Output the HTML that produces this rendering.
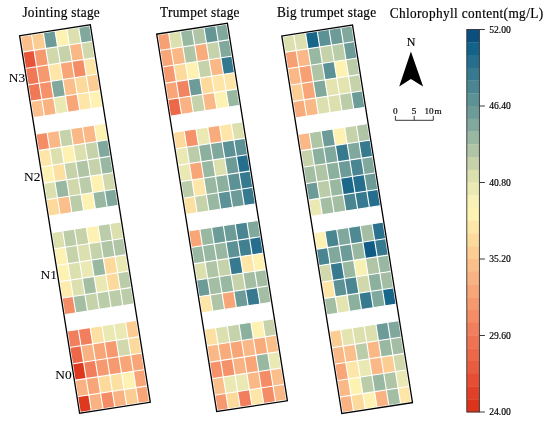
<!DOCTYPE html>
<html><head><meta charset="utf-8"><style>
html,body{margin:0;padding:0;background:#fff;width:550px;height:422px;overflow:hidden}
svg{display:block;will-change:transform;filter:blur(0.3px)}
text{font-family:"Liberation Serif",serif;fill:#000;stroke:#000;stroke-width:0.18px}
.ttl{font-size:13.3px;letter-spacing:0.3px;stroke:#000;stroke-width:0.18px}
.nl{font-size:13.4px;stroke-width:0.1px}
.lb{font-size:9.6px}
.na{font-size:12px}
.sb{font-size:9.2px}
</style></head><body>
<svg width="550" height="422" viewBox="0 0 550 422">
<g transform="matrix(0.98832,-0.15237,0.15697,0.98760,19.6,35.7)">
<rect x="0" y="0" width="71.54" height="382.24" fill="#fff"/>
<rect x="0.00" y="0.00" width="11.92" height="16.62" fill="#fabf8a"/>
<rect x="11.92" y="0.00" width="11.92" height="16.62" fill="#fbcd93"/>
<rect x="23.85" y="0.00" width="11.92" height="16.62" fill="#6d9c98"/>
<rect x="35.77" y="0.00" width="11.92" height="16.62" fill="#fdf2b1"/>
<rect x="47.69" y="0.00" width="11.92" height="16.62" fill="#dce0af"/>
<rect x="59.61" y="0.00" width="11.92" height="16.62" fill="#80a89c"/>
<rect x="0.00" y="16.62" width="11.92" height="16.62" fill="#e85439"/>
<rect x="11.92" y="16.62" width="11.92" height="16.62" fill="#f6996f"/>
<rect x="23.85" y="16.62" width="11.92" height="16.62" fill="#d1d9ac"/>
<rect x="35.77" y="16.62" width="11.92" height="16.62" fill="#c6d2a9"/>
<rect x="47.69" y="16.62" width="11.92" height="16.62" fill="#fab886"/>
<rect x="59.61" y="16.62" width="11.92" height="16.62" fill="#d1d9ac"/>
<rect x="0.00" y="33.24" width="11.92" height="16.62" fill="#f07857"/>
<rect x="11.92" y="33.24" width="11.92" height="16.62" fill="#f6996f"/>
<rect x="23.85" y="33.24" width="11.92" height="16.62" fill="#fde6a7"/>
<rect x="35.77" y="33.24" width="11.92" height="16.62" fill="#f8a677"/>
<rect x="47.69" y="33.24" width="11.92" height="16.62" fill="#f48c66"/>
<rect x="59.61" y="33.24" width="11.92" height="16.62" fill="#fde6a7"/>
<rect x="0.00" y="49.86" width="11.92" height="16.62" fill="#f07857"/>
<rect x="11.92" y="49.86" width="11.92" height="16.62" fill="#f5926a"/>
<rect x="23.85" y="49.86" width="11.92" height="16.62" fill="#80a89c"/>
<rect x="35.77" y="49.86" width="11.92" height="16.62" fill="#fabf8a"/>
<rect x="47.69" y="49.86" width="11.92" height="16.62" fill="#fcda9c"/>
<rect x="59.61" y="49.86" width="11.92" height="16.62" fill="#fbcd93"/>
<rect x="0.00" y="66.48" width="11.92" height="16.62" fill="#fabf8a"/>
<rect x="11.92" y="66.48" width="11.92" height="16.62" fill="#f9b281"/>
<rect x="23.85" y="66.48" width="11.92" height="16.62" fill="#ebe9b3"/>
<rect x="35.77" y="66.48" width="11.92" height="16.62" fill="#f8a677"/>
<rect x="47.69" y="66.48" width="11.92" height="16.62" fill="#fde6a7"/>
<rect x="59.61" y="66.48" width="11.92" height="16.62" fill="#fdf2b1"/>
<rect x="0.00" y="99.71" width="11.92" height="16.62" fill="#f48c66"/>
<rect x="11.92" y="99.71" width="11.92" height="16.62" fill="#fab886"/>
<rect x="23.85" y="99.71" width="11.92" height="16.62" fill="#c6d2a9"/>
<rect x="35.77" y="99.71" width="11.92" height="16.62" fill="#fab886"/>
<rect x="47.69" y="99.71" width="11.92" height="16.62" fill="#fab886"/>
<rect x="59.61" y="99.71" width="11.92" height="16.62" fill="#fdf2b1"/>
<rect x="0.00" y="116.33" width="11.92" height="16.62" fill="#fde6a7"/>
<rect x="11.92" y="116.33" width="11.92" height="16.62" fill="#dce0af"/>
<rect x="23.85" y="116.33" width="11.92" height="16.62" fill="#fdf2b1"/>
<rect x="35.77" y="116.33" width="11.92" height="16.62" fill="#dce0af"/>
<rect x="47.69" y="116.33" width="11.92" height="16.62" fill="#c6d2a9"/>
<rect x="59.61" y="116.33" width="11.92" height="16.62" fill="#80a89c"/>
<rect x="0.00" y="132.95" width="11.92" height="16.62" fill="#fdf2b1"/>
<rect x="11.92" y="132.95" width="11.92" height="16.62" fill="#fce0a2"/>
<rect x="23.85" y="132.95" width="11.92" height="16.62" fill="#c6d2a9"/>
<rect x="35.77" y="132.95" width="11.92" height="16.62" fill="#afc5a6"/>
<rect x="47.69" y="132.95" width="11.92" height="16.62" fill="#c6d2a9"/>
<rect x="59.61" y="132.95" width="11.92" height="16.62" fill="#98b8a1"/>
<rect x="0.00" y="149.57" width="11.92" height="16.62" fill="#dce0af"/>
<rect x="11.92" y="149.57" width="11.92" height="16.62" fill="#98b8a1"/>
<rect x="23.85" y="149.57" width="11.92" height="16.62" fill="#d1d9ac"/>
<rect x="35.77" y="149.57" width="11.92" height="16.62" fill="#bacca8"/>
<rect x="47.69" y="149.57" width="11.92" height="16.62" fill="#fdf2b1"/>
<rect x="59.61" y="149.57" width="11.92" height="16.62" fill="#d1d9ac"/>
<rect x="0.00" y="166.19" width="11.92" height="16.62" fill="#fcda9c"/>
<rect x="11.92" y="166.19" width="11.92" height="16.62" fill="#fabf8a"/>
<rect x="23.85" y="166.19" width="11.92" height="16.62" fill="#bacca8"/>
<rect x="35.77" y="166.19" width="11.92" height="16.62" fill="#fdf2b1"/>
<rect x="47.69" y="166.19" width="11.92" height="16.62" fill="#98b8a1"/>
<rect x="59.61" y="166.19" width="11.92" height="16.62" fill="#80a89c"/>
<rect x="0.00" y="199.43" width="11.92" height="16.62" fill="#dce0af"/>
<rect x="11.92" y="199.43" width="11.92" height="16.62" fill="#bacca8"/>
<rect x="23.85" y="199.43" width="11.92" height="16.62" fill="#c6d2a9"/>
<rect x="35.77" y="199.43" width="11.92" height="16.62" fill="#fdf2b1"/>
<rect x="47.69" y="199.43" width="11.92" height="16.62" fill="#bacca8"/>
<rect x="59.61" y="199.43" width="11.92" height="16.62" fill="#dce0af"/>
<rect x="0.00" y="216.05" width="11.92" height="16.62" fill="#fdf2b1"/>
<rect x="11.92" y="216.05" width="11.92" height="16.62" fill="#c6d2a9"/>
<rect x="23.85" y="216.05" width="11.92" height="16.62" fill="#dce0af"/>
<rect x="35.77" y="216.05" width="11.92" height="16.62" fill="#c6d2a9"/>
<rect x="47.69" y="216.05" width="11.92" height="16.62" fill="#afc5a6"/>
<rect x="59.61" y="216.05" width="11.92" height="16.62" fill="#afc5a6"/>
<rect x="0.00" y="232.67" width="11.92" height="16.62" fill="#fdf2b1"/>
<rect x="11.92" y="232.67" width="11.92" height="16.62" fill="#dce0af"/>
<rect x="23.85" y="232.67" width="11.92" height="16.62" fill="#ebe9b3"/>
<rect x="35.77" y="232.67" width="11.92" height="16.62" fill="#98b8a1"/>
<rect x="47.69" y="232.67" width="11.92" height="16.62" fill="#fcda9c"/>
<rect x="59.61" y="232.67" width="11.92" height="16.62" fill="#ebe9b3"/>
<rect x="0.00" y="249.29" width="11.92" height="16.62" fill="#fdecac"/>
<rect x="11.92" y="249.29" width="11.92" height="16.62" fill="#dce0af"/>
<rect x="23.85" y="249.29" width="11.92" height="16.62" fill="#a4bea4"/>
<rect x="35.77" y="249.29" width="11.92" height="16.62" fill="#ebe9b3"/>
<rect x="47.69" y="249.29" width="11.92" height="16.62" fill="#fcda9c"/>
<rect x="59.61" y="249.29" width="11.92" height="16.62" fill="#bacca8"/>
<rect x="0.00" y="265.91" width="11.92" height="16.62" fill="#f48c66"/>
<rect x="11.92" y="265.91" width="11.92" height="16.62" fill="#a4bea4"/>
<rect x="23.85" y="265.91" width="11.92" height="16.62" fill="#c6d2a9"/>
<rect x="35.77" y="265.91" width="11.92" height="16.62" fill="#bacca8"/>
<rect x="47.69" y="265.91" width="11.92" height="16.62" fill="#bacca8"/>
<rect x="59.61" y="265.91" width="11.92" height="16.62" fill="#bacca8"/>
<rect x="0.00" y="299.14" width="11.92" height="16.62" fill="#f17e5c"/>
<rect x="11.92" y="299.14" width="11.92" height="16.62" fill="#f17e5c"/>
<rect x="23.85" y="299.14" width="11.92" height="16.62" fill="#fce0a2"/>
<rect x="35.77" y="299.14" width="11.92" height="16.62" fill="#ebe9b3"/>
<rect x="47.69" y="299.14" width="11.92" height="16.62" fill="#ebe9b3"/>
<rect x="59.61" y="299.14" width="11.92" height="16.62" fill="#fbcd93"/>
<rect x="0.00" y="315.76" width="11.92" height="16.62" fill="#ed6849"/>
<rect x="11.92" y="315.76" width="11.92" height="16.62" fill="#f9b281"/>
<rect x="23.85" y="315.76" width="11.92" height="16.62" fill="#f8a677"/>
<rect x="35.77" y="315.76" width="11.92" height="16.62" fill="#f6996f"/>
<rect x="47.69" y="315.76" width="11.92" height="16.62" fill="#d1d9ac"/>
<rect x="59.61" y="315.76" width="11.92" height="16.62" fill="#fcda9c"/>
<rect x="0.00" y="332.38" width="11.92" height="16.62" fill="#de381e"/>
<rect x="11.92" y="332.38" width="11.92" height="16.62" fill="#f17e5c"/>
<rect x="23.85" y="332.38" width="11.92" height="16.62" fill="#f6996f"/>
<rect x="35.77" y="332.38" width="11.92" height="16.62" fill="#f6996f"/>
<rect x="47.69" y="332.38" width="11.92" height="16.62" fill="#f8a677"/>
<rect x="59.61" y="332.38" width="11.92" height="16.62" fill="#f8a677"/>
<rect x="0.00" y="349.00" width="11.92" height="16.62" fill="#f9b281"/>
<rect x="11.92" y="349.00" width="11.92" height="16.62" fill="#f8a677"/>
<rect x="23.85" y="349.00" width="11.92" height="16.62" fill="#fcda9c"/>
<rect x="35.77" y="349.00" width="11.92" height="16.62" fill="#fce0a2"/>
<rect x="47.69" y="349.00" width="11.92" height="16.62" fill="#fdf2b1"/>
<rect x="59.61" y="349.00" width="11.92" height="16.62" fill="#f8a677"/>
<rect x="0.00" y="365.62" width="11.92" height="16.62" fill="#de381e"/>
<rect x="11.92" y="365.62" width="11.92" height="16.62" fill="#f9b281"/>
<rect x="23.85" y="365.62" width="11.92" height="16.62" fill="#f48c66"/>
<rect x="35.77" y="365.62" width="11.92" height="16.62" fill="#f9b281"/>
<rect x="47.69" y="365.62" width="11.92" height="16.62" fill="#fbcd93"/>
<rect x="59.61" y="365.62" width="11.92" height="16.62" fill="#f8a677"/>
<line x1="11.92" y1="0" x2="11.92" y2="382.24" stroke="#fff" stroke-width="1.1"/>
<line x1="23.85" y1="0" x2="23.85" y2="382.24" stroke="#fff" stroke-width="1.1"/>
<line x1="35.77" y1="0" x2="35.77" y2="382.24" stroke="#fff" stroke-width="1.1"/>
<line x1="47.69" y1="0" x2="47.69" y2="382.24" stroke="#fff" stroke-width="1.1"/>
<line x1="59.61" y1="0" x2="59.61" y2="382.24" stroke="#fff" stroke-width="1.1"/>
<line x1="0" y1="16.62" x2="71.54" y2="16.62" stroke="#fff" stroke-width="1.1"/>
<line x1="0" y1="33.24" x2="71.54" y2="33.24" stroke="#fff" stroke-width="1.1"/>
<line x1="0" y1="49.86" x2="71.54" y2="49.86" stroke="#fff" stroke-width="1.1"/>
<line x1="0" y1="66.48" x2="71.54" y2="66.48" stroke="#fff" stroke-width="1.1"/>
<line x1="0" y1="83.10" x2="71.54" y2="83.10" stroke="#fff" stroke-width="1.1"/>
<line x1="0" y1="99.71" x2="71.54" y2="99.71" stroke="#fff" stroke-width="1.1"/>
<line x1="0" y1="116.33" x2="71.54" y2="116.33" stroke="#fff" stroke-width="1.1"/>
<line x1="0" y1="132.95" x2="71.54" y2="132.95" stroke="#fff" stroke-width="1.1"/>
<line x1="0" y1="149.57" x2="71.54" y2="149.57" stroke="#fff" stroke-width="1.1"/>
<line x1="0" y1="166.19" x2="71.54" y2="166.19" stroke="#fff" stroke-width="1.1"/>
<line x1="0" y1="182.81" x2="71.54" y2="182.81" stroke="#fff" stroke-width="1.1"/>
<line x1="0" y1="199.43" x2="71.54" y2="199.43" stroke="#fff" stroke-width="1.1"/>
<line x1="0" y1="216.05" x2="71.54" y2="216.05" stroke="#fff" stroke-width="1.1"/>
<line x1="0" y1="232.67" x2="71.54" y2="232.67" stroke="#fff" stroke-width="1.1"/>
<line x1="0" y1="249.29" x2="71.54" y2="249.29" stroke="#fff" stroke-width="1.1"/>
<line x1="0" y1="265.91" x2="71.54" y2="265.91" stroke="#fff" stroke-width="1.1"/>
<line x1="0" y1="282.52" x2="71.54" y2="282.52" stroke="#fff" stroke-width="1.1"/>
<line x1="0" y1="299.14" x2="71.54" y2="299.14" stroke="#fff" stroke-width="1.1"/>
<line x1="0" y1="315.76" x2="71.54" y2="315.76" stroke="#fff" stroke-width="1.1"/>
<line x1="0" y1="332.38" x2="71.54" y2="332.38" stroke="#fff" stroke-width="1.1"/>
<line x1="0" y1="349.00" x2="71.54" y2="349.00" stroke="#fff" stroke-width="1.1"/>
<line x1="0" y1="365.62" x2="71.54" y2="365.62" stroke="#fff" stroke-width="1.1"/>
<rect x="0" y="0" width="71.54" height="382.24" fill="none" stroke="#fff" stroke-width="2.6"/>
<rect x="0" y="0" width="71.54" height="382.24" fill="none" stroke="#000" stroke-width="1.3"/>
</g>
<g transform="matrix(0.98832,-0.15237,0.15697,0.98760,156.7,34.1)">
<rect x="0" y="0" width="71.54" height="382.24" fill="#fff"/>
<rect x="0.00" y="0.00" width="11.92" height="16.62" fill="#f7a073"/>
<rect x="11.92" y="0.00" width="11.92" height="16.62" fill="#dce0af"/>
<rect x="23.85" y="0.00" width="11.92" height="16.62" fill="#98b8a1"/>
<rect x="35.77" y="0.00" width="11.92" height="16.62" fill="#afc5a6"/>
<rect x="47.69" y="0.00" width="11.92" height="16.62" fill="#649696"/>
<rect x="59.61" y="0.00" width="11.92" height="16.62" fill="#80a89c"/>
<rect x="0.00" y="16.62" width="11.92" height="16.62" fill="#f8a677"/>
<rect x="11.92" y="16.62" width="11.92" height="16.62" fill="#fab886"/>
<rect x="23.85" y="16.62" width="11.92" height="16.62" fill="#afc5a6"/>
<rect x="35.77" y="16.62" width="11.92" height="16.62" fill="#f8ac7c"/>
<rect x="47.69" y="16.62" width="11.92" height="16.62" fill="#c6d2a9"/>
<rect x="59.61" y="16.62" width="11.92" height="16.62" fill="#80a89c"/>
<rect x="0.00" y="33.24" width="11.92" height="16.62" fill="#f6996f"/>
<rect x="11.92" y="33.24" width="11.92" height="16.62" fill="#fcda9c"/>
<rect x="23.85" y="33.24" width="11.92" height="16.62" fill="#fdf2b1"/>
<rect x="35.77" y="33.24" width="11.92" height="16.62" fill="#c6d2a9"/>
<rect x="47.69" y="33.24" width="11.92" height="16.62" fill="#fab886"/>
<rect x="59.61" y="33.24" width="11.92" height="16.62" fill="#33788f"/>
<rect x="0.00" y="49.86" width="11.92" height="16.62" fill="#f8a677"/>
<rect x="11.92" y="49.86" width="11.92" height="16.62" fill="#f28561"/>
<rect x="23.85" y="49.86" width="11.92" height="16.62" fill="#6d9c98"/>
<rect x="35.77" y="49.86" width="11.92" height="16.62" fill="#fcda9c"/>
<rect x="47.69" y="49.86" width="11.92" height="16.62" fill="#fde6a7"/>
<rect x="59.61" y="49.86" width="11.92" height="16.62" fill="#fde6a7"/>
<rect x="0.00" y="66.48" width="11.92" height="16.62" fill="#ed6849"/>
<rect x="11.92" y="66.48" width="11.92" height="16.62" fill="#f9b281"/>
<rect x="23.85" y="66.48" width="11.92" height="16.62" fill="#c6d2a9"/>
<rect x="35.77" y="66.48" width="11.92" height="16.62" fill="#fab886"/>
<rect x="47.69" y="66.48" width="11.92" height="16.62" fill="#fdf2b1"/>
<rect x="59.61" y="66.48" width="11.92" height="16.62" fill="#98b8a1"/>
<rect x="0.00" y="99.71" width="11.92" height="16.62" fill="#fcda9c"/>
<rect x="11.92" y="99.71" width="11.92" height="16.62" fill="#f5926a"/>
<rect x="23.85" y="99.71" width="11.92" height="16.62" fill="#ebe9b3"/>
<rect x="35.77" y="99.71" width="11.92" height="16.62" fill="#f8ac7c"/>
<rect x="47.69" y="99.71" width="11.92" height="16.62" fill="#fde6a7"/>
<rect x="59.61" y="99.71" width="11.92" height="16.62" fill="#dce0af"/>
<rect x="0.00" y="116.33" width="11.92" height="16.62" fill="#ebe9b3"/>
<rect x="11.92" y="116.33" width="11.92" height="16.62" fill="#bacca8"/>
<rect x="23.85" y="116.33" width="11.92" height="16.62" fill="#8cb09e"/>
<rect x="35.77" y="116.33" width="11.92" height="16.62" fill="#80a89c"/>
<rect x="47.69" y="116.33" width="11.92" height="16.62" fill="#5c9195"/>
<rect x="59.61" y="116.33" width="11.92" height="16.62" fill="#5c9195"/>
<rect x="0.00" y="132.95" width="11.92" height="16.62" fill="#ebe9b3"/>
<rect x="11.92" y="132.95" width="11.92" height="16.62" fill="#f8a677"/>
<rect x="23.85" y="132.95" width="11.92" height="16.62" fill="#98b8a1"/>
<rect x="35.77" y="132.95" width="11.92" height="16.62" fill="#dce0af"/>
<rect x="47.69" y="132.95" width="11.92" height="16.62" fill="#6d9c98"/>
<rect x="59.61" y="132.95" width="11.92" height="16.62" fill="#256e8d"/>
<rect x="0.00" y="149.57" width="11.92" height="16.62" fill="#bacca8"/>
<rect x="11.92" y="149.57" width="11.92" height="16.62" fill="#fde6a7"/>
<rect x="23.85" y="149.57" width="11.92" height="16.62" fill="#98b8a1"/>
<rect x="35.77" y="149.57" width="11.92" height="16.62" fill="#8cb09e"/>
<rect x="47.69" y="149.57" width="11.92" height="16.62" fill="#5c9195"/>
<rect x="59.61" y="149.57" width="11.92" height="16.62" fill="#377a8f"/>
<rect x="0.00" y="166.19" width="11.92" height="16.62" fill="#fce0a2"/>
<rect x="11.92" y="166.19" width="11.92" height="16.62" fill="#c6d2a9"/>
<rect x="23.85" y="166.19" width="11.92" height="16.62" fill="#98b8a1"/>
<rect x="35.77" y="166.19" width="11.92" height="16.62" fill="#5c9195"/>
<rect x="47.69" y="166.19" width="11.92" height="16.62" fill="#6d9c98"/>
<rect x="59.61" y="166.19" width="11.92" height="16.62" fill="#377a8f"/>
<rect x="0.00" y="199.43" width="11.92" height="16.62" fill="#f8a677"/>
<rect x="11.92" y="199.43" width="11.92" height="16.62" fill="#98b8a1"/>
<rect x="23.85" y="199.43" width="11.92" height="16.62" fill="#6d9c98"/>
<rect x="35.77" y="199.43" width="11.92" height="16.62" fill="#6d9c98"/>
<rect x="47.69" y="199.43" width="11.92" height="16.62" fill="#4a8692"/>
<rect x="59.61" y="199.43" width="11.92" height="16.62" fill="#80a89c"/>
<rect x="0.00" y="216.05" width="11.92" height="16.62" fill="#98b8a1"/>
<rect x="11.92" y="216.05" width="11.92" height="16.62" fill="#98b8a1"/>
<rect x="23.85" y="216.05" width="11.92" height="16.62" fill="#98b8a1"/>
<rect x="35.77" y="216.05" width="11.92" height="16.62" fill="#5c9195"/>
<rect x="47.69" y="216.05" width="11.92" height="16.62" fill="#408090"/>
<rect x="59.61" y="216.05" width="11.92" height="16.62" fill="#256e8d"/>
<rect x="0.00" y="232.67" width="11.92" height="16.62" fill="#dce0af"/>
<rect x="11.92" y="232.67" width="11.92" height="16.62" fill="#afc5a6"/>
<rect x="23.85" y="232.67" width="11.92" height="16.62" fill="#c6d2a9"/>
<rect x="35.77" y="232.67" width="11.92" height="16.62" fill="#377a8f"/>
<rect x="47.69" y="232.67" width="11.92" height="16.62" fill="#fde6a7"/>
<rect x="59.61" y="232.67" width="11.92" height="16.62" fill="#fdf2b1"/>
<rect x="0.00" y="249.29" width="11.92" height="16.62" fill="#6d9c98"/>
<rect x="11.92" y="249.29" width="11.92" height="16.62" fill="#a4bea4"/>
<rect x="23.85" y="249.29" width="11.92" height="16.62" fill="#98b8a1"/>
<rect x="35.77" y="249.29" width="11.92" height="16.62" fill="#c6d2a9"/>
<rect x="47.69" y="249.29" width="11.92" height="16.62" fill="#a4bea4"/>
<rect x="59.61" y="249.29" width="11.92" height="16.62" fill="#a4bea4"/>
<rect x="0.00" y="265.91" width="11.92" height="16.62" fill="#fde6a7"/>
<rect x="11.92" y="265.91" width="11.92" height="16.62" fill="#afc5a6"/>
<rect x="23.85" y="265.91" width="11.92" height="16.62" fill="#f8a677"/>
<rect x="35.77" y="265.91" width="11.92" height="16.62" fill="#6d9c98"/>
<rect x="47.69" y="265.91" width="11.92" height="16.62" fill="#377a8f"/>
<rect x="59.61" y="265.91" width="11.92" height="16.62" fill="#a4bea4"/>
<rect x="0.00" y="299.14" width="11.92" height="16.62" fill="#fce0a2"/>
<rect x="11.92" y="299.14" width="11.92" height="16.62" fill="#dce0af"/>
<rect x="23.85" y="299.14" width="11.92" height="16.62" fill="#c6d2a9"/>
<rect x="35.77" y="299.14" width="11.92" height="16.62" fill="#8cb09e"/>
<rect x="47.69" y="299.14" width="11.92" height="16.62" fill="#fdf2b1"/>
<rect x="59.61" y="299.14" width="11.92" height="16.62" fill="#c6d2a9"/>
<rect x="0.00" y="315.76" width="11.92" height="16.62" fill="#fab886"/>
<rect x="11.92" y="315.76" width="11.92" height="16.62" fill="#f8ac7c"/>
<rect x="23.85" y="315.76" width="11.92" height="16.62" fill="#f8a677"/>
<rect x="35.77" y="315.76" width="11.92" height="16.62" fill="#fab886"/>
<rect x="47.69" y="315.76" width="11.92" height="16.62" fill="#f8ac7c"/>
<rect x="59.61" y="315.76" width="11.92" height="16.62" fill="#fabf8a"/>
<rect x="0.00" y="332.38" width="11.92" height="16.62" fill="#f5926a"/>
<rect x="11.92" y="332.38" width="11.92" height="16.62" fill="#f5926a"/>
<rect x="23.85" y="332.38" width="11.92" height="16.62" fill="#f9b281"/>
<rect x="35.77" y="332.38" width="11.92" height="16.62" fill="#f8a677"/>
<rect x="47.69" y="332.38" width="11.92" height="16.62" fill="#98b8a1"/>
<rect x="59.61" y="332.38" width="11.92" height="16.62" fill="#ebe9b3"/>
<rect x="0.00" y="349.00" width="11.92" height="16.62" fill="#fabf8a"/>
<rect x="11.92" y="349.00" width="11.92" height="16.62" fill="#ebe9b3"/>
<rect x="23.85" y="349.00" width="11.92" height="16.62" fill="#ebe9b3"/>
<rect x="35.77" y="349.00" width="11.92" height="16.62" fill="#fab886"/>
<rect x="47.69" y="349.00" width="11.92" height="16.62" fill="#f48c66"/>
<rect x="59.61" y="349.00" width="11.92" height="16.62" fill="#fabf8a"/>
<rect x="0.00" y="365.62" width="11.92" height="16.62" fill="#f6996f"/>
<rect x="11.92" y="365.62" width="11.92" height="16.62" fill="#fcda9c"/>
<rect x="23.85" y="365.62" width="11.92" height="16.62" fill="#f17e5c"/>
<rect x="35.77" y="365.62" width="11.92" height="16.62" fill="#fde6a7"/>
<rect x="47.69" y="365.62" width="11.92" height="16.62" fill="#f48c66"/>
<rect x="59.61" y="365.62" width="11.92" height="16.62" fill="#fab886"/>
<line x1="11.92" y1="0" x2="11.92" y2="382.24" stroke="#fff" stroke-width="1.1"/>
<line x1="23.85" y1="0" x2="23.85" y2="382.24" stroke="#fff" stroke-width="1.1"/>
<line x1="35.77" y1="0" x2="35.77" y2="382.24" stroke="#fff" stroke-width="1.1"/>
<line x1="47.69" y1="0" x2="47.69" y2="382.24" stroke="#fff" stroke-width="1.1"/>
<line x1="59.61" y1="0" x2="59.61" y2="382.24" stroke="#fff" stroke-width="1.1"/>
<line x1="0" y1="16.62" x2="71.54" y2="16.62" stroke="#fff" stroke-width="1.1"/>
<line x1="0" y1="33.24" x2="71.54" y2="33.24" stroke="#fff" stroke-width="1.1"/>
<line x1="0" y1="49.86" x2="71.54" y2="49.86" stroke="#fff" stroke-width="1.1"/>
<line x1="0" y1="66.48" x2="71.54" y2="66.48" stroke="#fff" stroke-width="1.1"/>
<line x1="0" y1="83.10" x2="71.54" y2="83.10" stroke="#fff" stroke-width="1.1"/>
<line x1="0" y1="99.71" x2="71.54" y2="99.71" stroke="#fff" stroke-width="1.1"/>
<line x1="0" y1="116.33" x2="71.54" y2="116.33" stroke="#fff" stroke-width="1.1"/>
<line x1="0" y1="132.95" x2="71.54" y2="132.95" stroke="#fff" stroke-width="1.1"/>
<line x1="0" y1="149.57" x2="71.54" y2="149.57" stroke="#fff" stroke-width="1.1"/>
<line x1="0" y1="166.19" x2="71.54" y2="166.19" stroke="#fff" stroke-width="1.1"/>
<line x1="0" y1="182.81" x2="71.54" y2="182.81" stroke="#fff" stroke-width="1.1"/>
<line x1="0" y1="199.43" x2="71.54" y2="199.43" stroke="#fff" stroke-width="1.1"/>
<line x1="0" y1="216.05" x2="71.54" y2="216.05" stroke="#fff" stroke-width="1.1"/>
<line x1="0" y1="232.67" x2="71.54" y2="232.67" stroke="#fff" stroke-width="1.1"/>
<line x1="0" y1="249.29" x2="71.54" y2="249.29" stroke="#fff" stroke-width="1.1"/>
<line x1="0" y1="265.91" x2="71.54" y2="265.91" stroke="#fff" stroke-width="1.1"/>
<line x1="0" y1="282.52" x2="71.54" y2="282.52" stroke="#fff" stroke-width="1.1"/>
<line x1="0" y1="299.14" x2="71.54" y2="299.14" stroke="#fff" stroke-width="1.1"/>
<line x1="0" y1="315.76" x2="71.54" y2="315.76" stroke="#fff" stroke-width="1.1"/>
<line x1="0" y1="332.38" x2="71.54" y2="332.38" stroke="#fff" stroke-width="1.1"/>
<line x1="0" y1="349.00" x2="71.54" y2="349.00" stroke="#fff" stroke-width="1.1"/>
<line x1="0" y1="365.62" x2="71.54" y2="365.62" stroke="#fff" stroke-width="1.1"/>
<rect x="0" y="0" width="71.54" height="382.24" fill="none" stroke="#fff" stroke-width="2.6"/>
<rect x="0" y="0" width="71.54" height="382.24" fill="none" stroke="#000" stroke-width="1.3"/>
</g>
<g transform="matrix(0.98832,-0.15237,0.15697,0.98760,281.8,36.0)">
<rect x="0" y="0" width="71.54" height="382.24" fill="#fff"/>
<rect x="0.00" y="0.00" width="11.92" height="16.62" fill="#dce0af"/>
<rect x="11.92" y="0.00" width="11.92" height="16.62" fill="#dce0af"/>
<rect x="23.85" y="0.00" width="11.92" height="16.62" fill="#18668a"/>
<rect x="35.77" y="0.00" width="11.92" height="16.62" fill="#5c9195"/>
<rect x="47.69" y="0.00" width="11.92" height="16.62" fill="#6d9c98"/>
<rect x="59.61" y="0.00" width="11.92" height="16.62" fill="#80a89c"/>
<rect x="0.00" y="16.62" width="11.92" height="16.62" fill="#f7a073"/>
<rect x="11.92" y="16.62" width="11.92" height="16.62" fill="#fab886"/>
<rect x="23.85" y="16.62" width="11.92" height="16.62" fill="#98b8a1"/>
<rect x="35.77" y="16.62" width="11.92" height="16.62" fill="#c6d2a9"/>
<rect x="47.69" y="16.62" width="11.92" height="16.62" fill="#bacca8"/>
<rect x="59.61" y="16.62" width="11.92" height="16.62" fill="#6d9c98"/>
<rect x="0.00" y="33.24" width="11.92" height="16.62" fill="#fab886"/>
<rect x="11.92" y="33.24" width="11.92" height="16.62" fill="#f7a073"/>
<rect x="23.85" y="33.24" width="11.92" height="16.62" fill="#afc5a6"/>
<rect x="35.77" y="33.24" width="11.92" height="16.62" fill="#5c9195"/>
<rect x="47.69" y="33.24" width="11.92" height="16.62" fill="#fdf2b1"/>
<rect x="59.61" y="33.24" width="11.92" height="16.62" fill="#bacca8"/>
<rect x="0.00" y="49.86" width="11.92" height="16.62" fill="#fbcd93"/>
<rect x="11.92" y="49.86" width="11.92" height="16.62" fill="#f8a677"/>
<rect x="23.85" y="49.86" width="11.92" height="16.62" fill="#80a89c"/>
<rect x="35.77" y="49.86" width="11.92" height="16.62" fill="#e4e4b1"/>
<rect x="47.69" y="49.86" width="11.92" height="16.62" fill="#e4e4b1"/>
<rect x="59.61" y="49.86" width="11.92" height="16.62" fill="#c6d2a9"/>
<rect x="0.00" y="66.48" width="11.92" height="16.62" fill="#f8ac7c"/>
<rect x="11.92" y="66.48" width="11.92" height="16.62" fill="#fab886"/>
<rect x="23.85" y="66.48" width="11.92" height="16.62" fill="#dce0af"/>
<rect x="35.77" y="66.48" width="11.92" height="16.62" fill="#dce0af"/>
<rect x="47.69" y="66.48" width="11.92" height="16.62" fill="#bacca8"/>
<rect x="59.61" y="66.48" width="11.92" height="16.62" fill="#6d9c98"/>
<rect x="0.00" y="99.71" width="11.92" height="16.62" fill="#fab886"/>
<rect x="11.92" y="99.71" width="11.92" height="16.62" fill="#afc5a6"/>
<rect x="23.85" y="99.71" width="11.92" height="16.62" fill="#6d9c98"/>
<rect x="35.77" y="99.71" width="11.92" height="16.62" fill="#fdf2b1"/>
<rect x="47.69" y="99.71" width="11.92" height="16.62" fill="#c6d2a9"/>
<rect x="59.61" y="99.71" width="11.92" height="16.62" fill="#afc5a6"/>
<rect x="0.00" y="116.33" width="11.92" height="16.62" fill="#c6d2a9"/>
<rect x="11.92" y="116.33" width="11.92" height="16.62" fill="#8cb09e"/>
<rect x="23.85" y="116.33" width="11.92" height="16.62" fill="#80a89c"/>
<rect x="35.77" y="116.33" width="11.92" height="16.62" fill="#377a8f"/>
<rect x="47.69" y="116.33" width="11.92" height="16.62" fill="#80a89c"/>
<rect x="59.61" y="116.33" width="11.92" height="16.62" fill="#377a8f"/>
<rect x="0.00" y="132.95" width="11.92" height="16.62" fill="#a4bea4"/>
<rect x="11.92" y="132.95" width="11.92" height="16.62" fill="#afc5a6"/>
<rect x="23.85" y="132.95" width="11.92" height="16.62" fill="#8cb09e"/>
<rect x="35.77" y="132.95" width="11.92" height="16.62" fill="#6d9c98"/>
<rect x="47.69" y="132.95" width="11.92" height="16.62" fill="#4a8692"/>
<rect x="59.61" y="132.95" width="11.92" height="16.62" fill="#80a89c"/>
<rect x="0.00" y="149.57" width="11.92" height="16.62" fill="#6d9c98"/>
<rect x="11.92" y="149.57" width="11.92" height="16.62" fill="#bacca8"/>
<rect x="23.85" y="149.57" width="11.92" height="16.62" fill="#98b8a1"/>
<rect x="35.77" y="149.57" width="11.92" height="16.62" fill="#1c688b"/>
<rect x="47.69" y="149.57" width="11.92" height="16.62" fill="#256e8d"/>
<rect x="59.61" y="149.57" width="11.92" height="16.62" fill="#6d9c98"/>
<rect x="0.00" y="166.19" width="11.92" height="16.62" fill="#ebe9b3"/>
<rect x="11.92" y="166.19" width="11.92" height="16.62" fill="#a4bea4"/>
<rect x="23.85" y="166.19" width="11.92" height="16.62" fill="#a4bea4"/>
<rect x="35.77" y="166.19" width="11.92" height="16.62" fill="#4a8692"/>
<rect x="47.69" y="166.19" width="11.92" height="16.62" fill="#377a8f"/>
<rect x="59.61" y="166.19" width="11.92" height="16.62" fill="#256e8d"/>
<rect x="0.00" y="199.43" width="11.92" height="16.62" fill="#fdf2b1"/>
<rect x="11.92" y="199.43" width="11.92" height="16.62" fill="#4a8692"/>
<rect x="23.85" y="199.43" width="11.92" height="16.62" fill="#80a89c"/>
<rect x="35.77" y="199.43" width="11.92" height="16.62" fill="#4f8993"/>
<rect x="47.69" y="199.43" width="11.92" height="16.62" fill="#a4bea4"/>
<rect x="59.61" y="199.43" width="11.92" height="16.62" fill="#2a728e"/>
<rect x="0.00" y="216.05" width="11.92" height="16.62" fill="#4a8692"/>
<rect x="11.92" y="216.05" width="11.92" height="16.62" fill="#80a89c"/>
<rect x="23.85" y="216.05" width="11.92" height="16.62" fill="#6d9c98"/>
<rect x="35.77" y="216.05" width="11.92" height="16.62" fill="#98b8a1"/>
<rect x="47.69" y="216.05" width="11.92" height="16.62" fill="#115c86"/>
<rect x="59.61" y="216.05" width="11.92" height="16.62" fill="#377a8f"/>
<rect x="0.00" y="232.67" width="11.92" height="16.62" fill="#d1d9ac"/>
<rect x="11.92" y="232.67" width="11.92" height="16.62" fill="#377a8f"/>
<rect x="23.85" y="232.67" width="11.92" height="16.62" fill="#98b8a1"/>
<rect x="35.77" y="232.67" width="11.92" height="16.62" fill="#f8f1b6"/>
<rect x="47.69" y="232.67" width="11.92" height="16.62" fill="#afc5a6"/>
<rect x="59.61" y="232.67" width="11.92" height="16.62" fill="#98b8a1"/>
<rect x="0.00" y="249.29" width="11.92" height="16.62" fill="#fde6a7"/>
<rect x="11.92" y="249.29" width="11.92" height="16.62" fill="#5c9195"/>
<rect x="23.85" y="249.29" width="11.92" height="16.62" fill="#4a8692"/>
<rect x="35.77" y="249.29" width="11.92" height="16.62" fill="#d1d9ac"/>
<rect x="47.69" y="249.29" width="11.92" height="16.62" fill="#8cb09e"/>
<rect x="59.61" y="249.29" width="11.92" height="16.62" fill="#a4bea4"/>
<rect x="0.00" y="265.91" width="11.92" height="16.62" fill="#a4bea4"/>
<rect x="11.92" y="265.91" width="11.92" height="16.62" fill="#e4e4b1"/>
<rect x="23.85" y="265.91" width="11.92" height="16.62" fill="#8cb09e"/>
<rect x="35.77" y="265.91" width="11.92" height="16.62" fill="#377a8f"/>
<rect x="47.69" y="265.91" width="11.92" height="16.62" fill="#80a89c"/>
<rect x="59.61" y="265.91" width="11.92" height="16.62" fill="#18668a"/>
<rect x="0.00" y="299.14" width="11.92" height="16.62" fill="#fbcd93"/>
<rect x="11.92" y="299.14" width="11.92" height="16.62" fill="#e4e4b1"/>
<rect x="23.85" y="299.14" width="11.92" height="16.62" fill="#dce0af"/>
<rect x="35.77" y="299.14" width="11.92" height="16.62" fill="#dce0af"/>
<rect x="47.69" y="299.14" width="11.92" height="16.62" fill="#6d9c98"/>
<rect x="59.61" y="299.14" width="11.92" height="16.62" fill="#80a89c"/>
<rect x="0.00" y="315.76" width="11.92" height="16.62" fill="#fab886"/>
<rect x="11.92" y="315.76" width="11.92" height="16.62" fill="#fabf8a"/>
<rect x="23.85" y="315.76" width="11.92" height="16.62" fill="#bacca8"/>
<rect x="35.77" y="315.76" width="11.92" height="16.62" fill="#fab886"/>
<rect x="47.69" y="315.76" width="11.92" height="16.62" fill="#98b8a1"/>
<rect x="59.61" y="315.76" width="11.92" height="16.62" fill="#a4bea4"/>
<rect x="0.00" y="332.38" width="11.92" height="16.62" fill="#f8a677"/>
<rect x="11.92" y="332.38" width="11.92" height="16.62" fill="#fde6a7"/>
<rect x="23.85" y="332.38" width="11.92" height="16.62" fill="#ebe9b3"/>
<rect x="35.77" y="332.38" width="11.92" height="16.62" fill="#fab886"/>
<rect x="47.69" y="332.38" width="11.92" height="16.62" fill="#fbcd93"/>
<rect x="59.61" y="332.38" width="11.92" height="16.62" fill="#d1d9ac"/>
<rect x="0.00" y="349.00" width="11.92" height="16.62" fill="#fab886"/>
<rect x="11.92" y="349.00" width="11.92" height="16.62" fill="#fdf2b1"/>
<rect x="23.85" y="349.00" width="11.92" height="16.62" fill="#bacca8"/>
<rect x="35.77" y="349.00" width="11.92" height="16.62" fill="#98b8a1"/>
<rect x="47.69" y="349.00" width="11.92" height="16.62" fill="#afc5a6"/>
<rect x="59.61" y="349.00" width="11.92" height="16.62" fill="#ebe9b3"/>
<rect x="0.00" y="365.62" width="11.92" height="16.62" fill="#f9b281"/>
<rect x="11.92" y="365.62" width="11.92" height="16.62" fill="#fcda9c"/>
<rect x="23.85" y="365.62" width="11.92" height="16.62" fill="#fdf2b1"/>
<rect x="35.77" y="365.62" width="11.92" height="16.62" fill="#f9b281"/>
<rect x="47.69" y="365.62" width="11.92" height="16.62" fill="#a4bea4"/>
<rect x="59.61" y="365.62" width="11.92" height="16.62" fill="#fde6a7"/>
<line x1="11.92" y1="0" x2="11.92" y2="382.24" stroke="#fff" stroke-width="1.1"/>
<line x1="23.85" y1="0" x2="23.85" y2="382.24" stroke="#fff" stroke-width="1.1"/>
<line x1="35.77" y1="0" x2="35.77" y2="382.24" stroke="#fff" stroke-width="1.1"/>
<line x1="47.69" y1="0" x2="47.69" y2="382.24" stroke="#fff" stroke-width="1.1"/>
<line x1="59.61" y1="0" x2="59.61" y2="382.24" stroke="#fff" stroke-width="1.1"/>
<line x1="0" y1="16.62" x2="71.54" y2="16.62" stroke="#fff" stroke-width="1.1"/>
<line x1="0" y1="33.24" x2="71.54" y2="33.24" stroke="#fff" stroke-width="1.1"/>
<line x1="0" y1="49.86" x2="71.54" y2="49.86" stroke="#fff" stroke-width="1.1"/>
<line x1="0" y1="66.48" x2="71.54" y2="66.48" stroke="#fff" stroke-width="1.1"/>
<line x1="0" y1="83.10" x2="71.54" y2="83.10" stroke="#fff" stroke-width="1.1"/>
<line x1="0" y1="99.71" x2="71.54" y2="99.71" stroke="#fff" stroke-width="1.1"/>
<line x1="0" y1="116.33" x2="71.54" y2="116.33" stroke="#fff" stroke-width="1.1"/>
<line x1="0" y1="132.95" x2="71.54" y2="132.95" stroke="#fff" stroke-width="1.1"/>
<line x1="0" y1="149.57" x2="71.54" y2="149.57" stroke="#fff" stroke-width="1.1"/>
<line x1="0" y1="166.19" x2="71.54" y2="166.19" stroke="#fff" stroke-width="1.1"/>
<line x1="0" y1="182.81" x2="71.54" y2="182.81" stroke="#fff" stroke-width="1.1"/>
<line x1="0" y1="199.43" x2="71.54" y2="199.43" stroke="#fff" stroke-width="1.1"/>
<line x1="0" y1="216.05" x2="71.54" y2="216.05" stroke="#fff" stroke-width="1.1"/>
<line x1="0" y1="232.67" x2="71.54" y2="232.67" stroke="#fff" stroke-width="1.1"/>
<line x1="0" y1="249.29" x2="71.54" y2="249.29" stroke="#fff" stroke-width="1.1"/>
<line x1="0" y1="265.91" x2="71.54" y2="265.91" stroke="#fff" stroke-width="1.1"/>
<line x1="0" y1="282.52" x2="71.54" y2="282.52" stroke="#fff" stroke-width="1.1"/>
<line x1="0" y1="299.14" x2="71.54" y2="299.14" stroke="#fff" stroke-width="1.1"/>
<line x1="0" y1="315.76" x2="71.54" y2="315.76" stroke="#fff" stroke-width="1.1"/>
<line x1="0" y1="332.38" x2="71.54" y2="332.38" stroke="#fff" stroke-width="1.1"/>
<line x1="0" y1="349.00" x2="71.54" y2="349.00" stroke="#fff" stroke-width="1.1"/>
<line x1="0" y1="365.62" x2="71.54" y2="365.62" stroke="#fff" stroke-width="1.1"/>
<rect x="0" y="0" width="71.54" height="382.24" fill="none" stroke="#fff" stroke-width="2.6"/>
<rect x="0" y="0" width="71.54" height="382.24" fill="none" stroke="#000" stroke-width="1.3"/>
</g>
<rect x="466.8" y="29.50" width="12.60" height="13.05" fill="#0b4f80"/>
<rect x="466.8" y="42.25" width="12.60" height="13.05" fill="#136289"/>
<rect x="466.8" y="55.00" width="12.60" height="13.05" fill="#256e8d"/>
<rect x="466.8" y="67.75" width="12.60" height="13.05" fill="#377a8f"/>
<rect x="466.8" y="80.50" width="12.60" height="13.05" fill="#4a8692"/>
<rect x="466.8" y="93.25" width="12.60" height="13.05" fill="#5c9195"/>
<rect x="466.8" y="106.00" width="12.60" height="13.05" fill="#6d9c98"/>
<rect x="466.8" y="118.75" width="12.60" height="13.05" fill="#80a89c"/>
<rect x="466.8" y="131.50" width="12.60" height="13.05" fill="#98b8a1"/>
<rect x="466.8" y="144.25" width="12.60" height="13.05" fill="#afc5a6"/>
<rect x="466.8" y="157.00" width="12.60" height="13.05" fill="#c6d2a9"/>
<rect x="466.8" y="169.75" width="12.60" height="13.05" fill="#dce0af"/>
<rect x="466.8" y="182.50" width="12.60" height="13.05" fill="#ebe9b3"/>
<rect x="466.8" y="195.25" width="12.60" height="13.05" fill="#f8f1b6"/>
<rect x="466.8" y="208.00" width="12.60" height="13.05" fill="#fdf2b1"/>
<rect x="466.8" y="220.75" width="12.60" height="13.05" fill="#fde6a7"/>
<rect x="466.8" y="233.50" width="12.60" height="13.05" fill="#fcda9c"/>
<rect x="466.8" y="246.25" width="12.60" height="13.05" fill="#fbcd93"/>
<rect x="466.8" y="259.00" width="12.60" height="13.05" fill="#fabf8a"/>
<rect x="466.8" y="271.75" width="12.60" height="13.05" fill="#f9b281"/>
<rect x="466.8" y="284.50" width="12.60" height="13.05" fill="#f8a677"/>
<rect x="466.8" y="297.25" width="12.60" height="13.05" fill="#f6996f"/>
<rect x="466.8" y="310.00" width="12.60" height="13.05" fill="#f48c66"/>
<rect x="466.8" y="322.75" width="12.60" height="13.05" fill="#f17e5c"/>
<rect x="466.8" y="335.50" width="12.60" height="13.05" fill="#ef7352"/>
<rect x="466.8" y="348.25" width="12.60" height="13.05" fill="#ed6849"/>
<rect x="466.8" y="361.00" width="12.60" height="13.05" fill="#ea5c40"/>
<rect x="466.8" y="373.75" width="12.60" height="13.05" fill="#e64d32"/>
<rect x="466.8" y="386.50" width="12.60" height="13.05" fill="#e14026"/>
<rect x="466.8" y="399.25" width="12.60" height="13.05" fill="#dc341a"/>
<rect x="466.8" y="29.5" width="12.60" height="382.50" fill="none" stroke="#333" stroke-width="0.9"/>
<line x1="479.4" y1="29.50" x2="484.9" y2="29.50" stroke="#222" stroke-width="0.9"/>
<text x="489.2" y="32.80" class="lb">52.00</text>
<line x1="479.4" y1="106.00" x2="484.9" y2="106.00" stroke="#222" stroke-width="0.9"/>
<text x="489.2" y="109.30" class="lb">46.40</text>
<line x1="479.4" y1="182.50" x2="484.9" y2="182.50" stroke="#222" stroke-width="0.9"/>
<text x="489.2" y="185.80" class="lb">40.80</text>
<line x1="479.4" y1="259.00" x2="484.9" y2="259.00" stroke="#222" stroke-width="0.9"/>
<text x="489.2" y="262.30" class="lb">35.20</text>
<line x1="479.4" y1="335.50" x2="484.9" y2="335.50" stroke="#222" stroke-width="0.9"/>
<text x="489.2" y="338.80" class="lb">29.60</text>
<line x1="479.4" y1="412.00" x2="484.9" y2="412.00" stroke="#222" stroke-width="0.9"/>
<text x="489.2" y="415.30" class="lb">24.00</text>
<text transform="translate(22.4,16.5) scale(1,1.02)" class="ttl">Jointing stage</text>
<text transform="translate(160.0,16.6) scale(1,1.02)" class="ttl">Trumpet stage</text>
<text transform="translate(276.9,17.0) scale(1,1.02)" class="ttl">Big trumpet stage</text>
<text transform="translate(389.7,17.6) scale(1,1.02)" class="ttl" style="letter-spacing:0.38px">Chlorophyll content(mg/L)</text>
<text x="8.8" y="81.6" class="nl">N3</text>
<text x="24.1" y="180.7" class="nl">N2</text>
<text x="40.5" y="278.9" class="nl">N1</text>
<text x="55.3" y="378.6" class="nl">N0</text>
<text x="406.8" y="45.5" class="na">N</text>
<path d="M410.9,51.6 L423.1,86.6 L410.9,79.1 L399.2,86.6 Z" fill="#000"/>
<path d="M395.4,115.9 V120.3 H433.3 V115.9 M414.2,120.3 V115.9" fill="none" stroke="#222" stroke-width="0.9"/>
<text x="392.9" y="113.8" class="sb">0</text>
<text x="411.8" y="113.8" class="sb">5</text>
<text x="424.4" y="113.8" class="sb">10</text>
<text x="434.4" y="113.8" class="sb">m</text>
</svg>
</body></html>
